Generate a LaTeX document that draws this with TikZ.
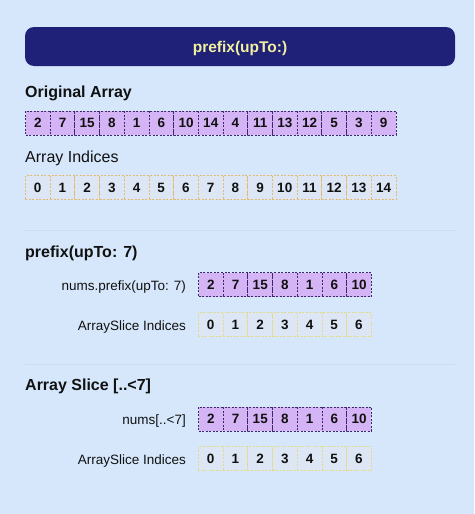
\documentclass[tikz,border=0pt]{standalone}
\usepackage{fontspec}
\setmainfont{Liberation Sans}
\definecolor{bg}{HTML}{D6E7FC}
\definecolor{titlefill}{HTML}{1E2177}
\definecolor{titletext}{HTML}{F2EEA0}
\definecolor{pfill}{HTML}{D5B4F6}
\definecolor{pborder}{HTML}{3B2A6B}
\definecolor{ifill}{HTML}{DCE6F5}
\definecolor{iborderA}{HTML}{E4BA6C}
\definecolor{iborderB}{HTML}{E2DC8A}
\definecolor{sepline}{HTML}{C9DAF2}
\definecolor{ink}{HTML}{111111}
\begin{document}
\begin{tikzpicture}[x=1pt,y=-1pt,
  cellbase/.style={minimum width=24.7pt, minimum height=24pt, inner sep=0pt, anchor=west,
    text=ink, font=\bfseries\fontsize{13.5}{14}\selectfont},
  pcell/.style={cellbase, draw=pborder, fill=pfill, line width=1pt, dash pattern=on 2pt off 1.5pt},
  icellA/.style={cellbase, draw=iborderA, fill=ifill, line width=0.8pt, dash pattern=on 2pt off 1.5pt},
  icellB/.style={cellbase, draw=iborderB, fill=ifill, line width=0.8pt, dash pattern=on 2pt off 1.5pt},
  heading/.style={anchor=base west, inner sep=0pt, text=ink, font=\bfseries\fontsize{16}{18}\selectfont},
  sublabel/.style={anchor=base west, inner sep=0pt, text=ink, font=\fontsize{16}{18}\selectfont},
  rowlabel/.style={anchor=base east, inner sep=0pt, text=ink, font=\fontsize{13.5}{15}\selectfont},
  sep/.style={draw=sepline, line width=1pt}]
\fill[bg] (0,0) rectangle (474,514);
\useasboundingbox (0,0) rectangle (474,514);
% title
\node[fill=titlefill, rounded corners=9pt, minimum width=430pt, minimum height=39pt, inner sep=0pt] (title) at (240,46.5) {};
\node[anchor=base, inner sep=0pt, text=titletext, font=\bfseries\fontsize{15.5}{17}\selectfont] (titletxt) at (240,52.3) {prefix(upTo:)};
% original array
\node[heading] (h1) at (25,97.3) {Original Array};
\foreach \v [count=\i from 0] in {2,7,15,8,1,6,10,14,4,11,13,12,5,3,9}
  \node[pcell] (o\i) at (25+24.7*\i,123) {\v};
\node[sublabel] (h1b) at (25,162.5) {Array Indices};
\foreach \i in {0,...,14}
  \node[icellA] (oi\i) at (25+24.7*\i,187.5) {\i};
\coordinate (s1a) at (25,230);
\coordinate (s1b) at (455,230);
\draw[sep] (s1a) -- (s1b);
% prefix
\node[heading] (h2) at (25,257.5) {prefix(upTo: 7)};
\node[rowlabel] (l2a) at (186,290.3) {nums.prefix(upTo: 7)};
\foreach \v [count=\i from 0] in {2,7,15,8,1,6,10}
  \node[pcell] (p\i) at (198+24.7*\i,284.5) {\v};
\node[rowlabel] (l2b) at (186,330) {ArraySlice Indices};
\foreach \i in {0,...,6}
  \node[icellB] (pi\i) at (198+24.7*\i,324.5) {\i};
\coordinate (s2a) at (25,364);
\coordinate (s2b) at (455,364);
\draw[sep] (s2a) -- (s2b);
% slice
\node[heading] (h3) at (25,390.5) {Array Slice [..<7]};
\node[rowlabel] (l3a) at (186,424.8) {nums[..<7]};
\foreach \v [count=\i from 0] in {2,7,15,8,1,6,10}
  \node[pcell] (q\i) at (198+24.7*\i,419) {\v};
\node[rowlabel] (l3b) at (186,464.2) {ArraySlice Indices};
\foreach \i in {0,...,6}
  \node[icellB] (qi\i) at (198+24.7*\i,458.5) {\i};
\end{tikzpicture}
\end{document}
